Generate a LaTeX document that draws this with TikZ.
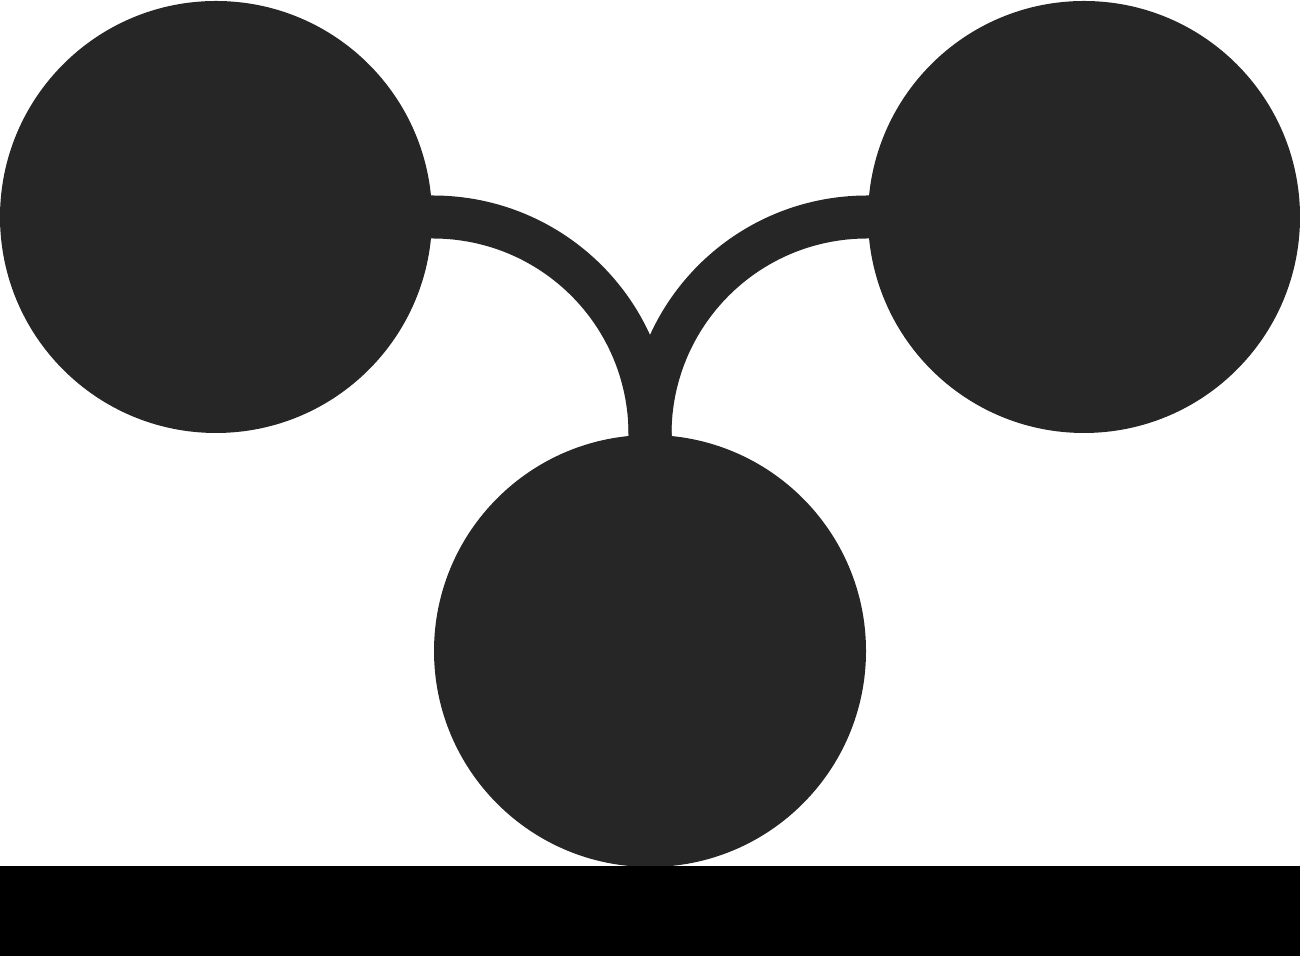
\documentclass[tikz,border=0pt]{standalone}
\usepackage{tikz}
\usepackage{xcolor}
\definecolor{blob}{HTML}{262626}

\begin{document}
\begin{tikzpicture}[blobnode/.style={circle,fill=blob,minimum size=4.32cm,inner sep=0pt},
	link/.style={line width=0.43cm,draw=blob}]
	\useasboundingbox (0,0) rectangle (13,9.56);
	\node[blobnode] (left) at (2.16,7.39) {};
	\node[blobnode] (right) at (10.84,7.39) {};
	\node[blobnode] (bottom) at (6.50,3.05) {};
	\draw[link] ([xshift=-0.06cm]left.east) -- (left.east) to[out=0,in=90] (bottom.north) -- ([yshift=-0.06cm]bottom.north);
	\draw[link] ([xshift=0.06cm]right.west) -- (right.west) to[out=180,in=90] (bottom.north) -- ([yshift=-0.06cm]bottom.north);
	\fill[black] (0,0) rectangle (13,0.90);
\end{tikzpicture}
\end{document}
